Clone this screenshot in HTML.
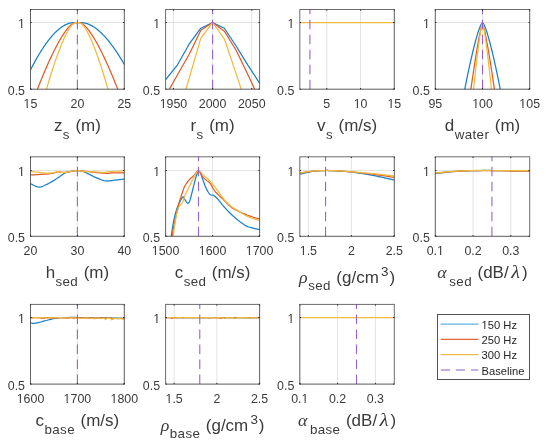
<!DOCTYPE html>
<html><head><meta charset="utf-8"><style>
html,body{margin:0;padding:0;background:#fff;width:550px;height:446px;overflow:hidden}
svg{display:block;will-change:transform}
text{font-family:"Liberation Sans",sans-serif;fill:#3a3a3a}
.t{font-size:12.4px}
.l{font-size:16.5px}
.s{font-size:13px;letter-spacing:0.35px}
.g{font-family:"Liberation Serif",serif;font-style:italic;font-size:17.5px}
.lam{font-size:19.5px}
.lg{font-size:11.8px;fill:#262626}
</style></head><body>
<svg width="550" height="446" viewBox="0 0 550 446"><rect width="550" height="446" fill="#fff"/><clipPath id="c00"><rect x="30.50" y="9.50" width="93.80" height="79.70"/></clipPath>
<path d="M30.50,9.50 V89.20 M77.40,9.50 V89.20 M124.30,9.50 V89.20 M30.50,89.20 H124.30 M30.50,22.50 H124.30" stroke="#e3e3e3" stroke-width="1" fill="none"/>
<path d="M30.50,69.86 L30.97,68.94 L31.44,68.03 L31.91,67.13 L32.38,66.23 L32.84,65.34 L33.31,64.46 L33.78,63.59 L34.25,62.73 L34.72,61.87 L35.19,61.02 L35.66,60.18 L36.13,59.35 L36.60,58.52 L37.07,57.71 L37.53,56.90 L38.00,56.09 L38.47,55.30 L38.94,54.52 L39.41,53.74 L39.88,52.97 L40.35,52.21 L40.82,51.45 L41.29,50.71 L41.76,49.97 L42.23,49.24 L42.69,48.52 L43.16,47.81 L43.63,47.11 L44.10,46.42 L44.57,45.73 L45.04,45.05 L45.51,44.38 L45.98,43.72 L46.45,43.07 L46.91,42.43 L47.38,41.80 L47.85,41.17 L48.32,40.55 L48.79,39.95 L49.26,39.35 L49.73,38.76 L50.20,38.18 L50.67,37.61 L51.14,37.05 L51.61,36.50 L52.07,35.96 L52.54,35.42 L53.01,34.90 L53.48,34.39 L53.95,33.88 L54.42,33.39 L54.89,32.90 L55.36,32.43 L55.83,31.97 L56.30,31.51 L56.76,31.07 L57.23,30.63 L57.70,30.21 L58.17,29.80 L58.64,29.39 L59.11,29.00 L59.58,28.62 L60.05,28.25 L60.52,27.89 L60.98,27.54 L61.45,27.21 L61.92,26.88 L62.39,26.57 L62.86,26.26 L63.33,25.97 L63.80,25.69 L64.27,25.42 L64.74,25.17 L65.21,24.92 L65.67,24.69 L66.14,24.47 L66.61,24.26 L67.08,24.06 L67.55,23.88 L68.02,23.71 L68.49,23.55 L68.96,23.40 L69.43,23.27 L69.90,23.15 L70.36,23.04 L70.83,22.94 L71.30,22.85 L71.77,22.78 L72.24,22.71 L72.71,22.66 L73.18,22.61 L73.65,22.58 L74.12,22.55 L74.59,22.53 L75.06,22.52 L75.52,22.51 L75.99,22.50 L76.46,22.50 L76.93,22.50 L77.40,22.50 L77.87,22.50 L78.34,22.50 L78.81,22.50 L79.28,22.51 L79.75,22.52 L80.21,22.53 L80.68,22.55 L81.15,22.57 L81.62,22.60 L82.09,22.64 L82.56,22.69 L83.03,22.75 L83.50,22.81 L83.97,22.89 L84.44,22.98 L84.90,23.07 L85.37,23.18 L85.84,23.30 L86.31,23.43 L86.78,23.57 L87.25,23.72 L87.72,23.88 L88.19,24.06 L88.66,24.24 L89.12,24.44 L89.59,24.64 L90.06,24.86 L90.53,25.09 L91.00,25.32 L91.47,25.57 L91.94,25.83 L92.41,26.10 L92.88,26.37 L93.35,26.66 L93.81,26.96 L94.28,27.27 L94.75,27.59 L95.22,27.91 L95.69,28.25 L96.16,28.60 L96.63,28.95 L97.10,29.32 L97.57,29.69 L98.04,30.08 L98.50,30.47 L98.97,30.87 L99.44,31.28 L99.91,31.70 L100.38,32.13 L100.85,32.57 L101.32,33.01 L101.79,33.47 L102.26,33.93 L102.73,34.40 L103.19,34.88 L103.66,35.37 L104.13,35.87 L104.60,36.37 L105.07,36.88 L105.54,37.40 L106.01,37.93 L106.48,38.47 L106.95,39.01 L107.42,39.57 L107.88,40.13 L108.35,40.70 L108.82,41.27 L109.29,41.86 L109.76,42.45 L110.23,43.05 L110.70,43.65 L111.17,44.27 L111.64,44.89 L112.11,45.52 L112.58,46.16 L113.04,46.80 L113.51,47.45 L113.98,48.11 L114.45,48.78 L114.92,49.45 L115.39,50.13 L115.86,50.82 L116.33,51.51 L116.80,52.21 L117.27,52.92 L117.73,53.64 L118.20,54.36 L118.67,55.09 L119.14,55.83 L119.61,56.57 L120.08,57.32 L120.55,58.08 L121.02,58.85 L121.49,59.62 L121.95,60.40 L122.42,61.18 L122.89,61.97 L123.36,62.77 L123.83,63.58 L124.30,64.39" stroke="#1a7fc6" stroke-width="1.25" fill="none" clip-path="url(#c00)" stroke-linejoin="round"/>
<path d="M30.50,107.71 L30.97,106.42 L31.44,105.13 L31.91,103.85 L32.38,102.58 L32.84,101.31 L33.31,100.05 L33.78,98.79 L34.25,97.54 L34.72,96.30 L35.19,95.06 L35.66,93.83 L36.13,92.60 L36.60,91.38 L37.07,90.17 L37.53,88.96 L38.00,87.76 L38.47,86.56 L38.94,85.37 L39.41,84.19 L39.88,83.01 L40.35,81.84 L40.82,80.68 L41.29,79.52 L41.76,78.37 L42.23,77.23 L42.69,76.09 L43.16,74.96 L43.63,73.84 L44.10,72.72 L44.57,71.61 L45.04,70.51 L45.51,69.42 L45.98,68.33 L46.45,67.25 L46.91,66.18 L47.38,65.12 L47.85,64.06 L48.32,63.01 L48.79,61.97 L49.26,60.93 L49.73,59.91 L50.20,58.89 L50.67,57.88 L51.14,56.88 L51.61,55.89 L52.07,54.91 L52.54,53.93 L53.01,52.97 L53.48,52.01 L53.95,51.06 L54.42,50.12 L54.89,49.20 L55.36,48.28 L55.83,47.37 L56.30,46.47 L56.76,45.58 L57.23,44.70 L57.70,43.83 L58.17,42.97 L58.64,42.13 L59.11,41.29 L59.58,40.47 L60.05,39.65 L60.52,38.85 L60.98,38.06 L61.45,37.29 L61.92,36.53 L62.39,35.78 L62.86,35.04 L63.33,34.32 L63.80,33.61 L64.27,32.91 L64.74,32.24 L65.21,31.57 L65.67,30.93 L66.14,30.30 L66.61,29.69 L67.08,29.09 L67.55,28.52 L68.02,27.96 L68.49,27.43 L68.96,26.91 L69.43,26.42 L69.90,25.95 L70.36,25.51 L70.83,25.09 L71.30,24.70 L71.77,24.34 L72.24,24.01 L72.71,23.71 L73.18,23.44 L73.65,23.21 L74.12,23.01 L74.59,22.84 L75.06,22.71 L75.52,22.62 L75.99,22.55 L76.46,22.52 L76.93,22.50 L77.40,22.50 L77.87,22.50 L78.34,22.52 L78.81,22.55 L79.28,22.62 L79.75,22.71 L80.21,22.84 L80.68,23.00 L81.15,23.20 L81.62,23.43 L82.09,23.69 L82.56,23.99 L83.03,24.31 L83.50,24.67 L83.97,25.06 L84.44,25.47 L84.90,25.90 L85.37,26.37 L85.84,26.85 L86.31,27.36 L86.78,27.88 L87.25,28.43 L87.72,29.00 L88.19,29.58 L88.66,30.19 L89.12,30.81 L89.59,31.44 L90.06,32.10 L90.53,32.77 L91.00,33.45 L91.47,34.15 L91.94,34.86 L92.41,35.59 L92.88,36.32 L93.35,37.08 L93.81,37.84 L94.28,38.62 L94.75,39.41 L95.22,40.21 L95.69,41.02 L96.16,41.85 L96.63,42.68 L97.10,43.53 L97.57,44.38 L98.04,45.25 L98.50,46.13 L98.97,47.01 L99.44,47.91 L99.91,48.81 L100.38,49.73 L100.85,50.65 L101.32,51.59 L101.79,52.53 L102.26,53.48 L102.73,54.44 L103.19,55.41 L103.66,56.39 L104.13,57.38 L104.60,58.37 L105.07,59.37 L105.54,60.39 L106.01,61.40 L106.48,62.43 L106.95,63.46 L107.42,64.51 L107.88,65.56 L108.35,66.61 L108.82,67.68 L109.29,68.75 L109.76,69.83 L110.23,70.91 L110.70,72.01 L111.17,73.11 L111.64,74.21 L112.11,75.33 L112.58,76.45 L113.04,77.57 L113.51,78.71 L113.98,79.85 L114.45,80.99 L114.92,82.15 L115.39,83.31 L115.86,84.47 L116.33,85.65 L116.80,86.82 L117.27,88.01 L117.73,89.20 L118.20,90.40 L118.67,91.60 L119.14,92.81 L119.61,94.02 L120.08,95.24 L120.55,96.47 L121.02,97.70 L121.49,98.94 L121.95,100.19 L122.42,101.43 L122.89,102.69 L123.36,103.95 L123.83,105.22 L124.30,106.49" stroke="#dc5d28" stroke-width="1.25" fill="none" clip-path="url(#c00)" stroke-linejoin="round"/>
<path d="M30.50,149.49 L30.97,147.57 L31.44,145.66 L31.91,143.75 L32.38,141.85 L32.84,139.96 L33.31,138.08 L33.78,136.21 L34.25,134.35 L34.72,132.49 L35.19,130.65 L35.66,128.81 L36.13,126.98 L36.60,125.16 L37.07,123.35 L37.53,121.55 L38.00,119.76 L38.47,117.98 L38.94,116.21 L39.41,114.44 L39.88,112.69 L40.35,110.95 L40.82,109.21 L41.29,107.49 L41.76,105.77 L42.23,104.07 L42.69,102.38 L43.16,100.69 L43.63,99.02 L44.10,97.35 L44.57,95.70 L45.04,94.06 L45.51,92.43 L45.98,90.81 L46.45,89.20 L46.91,87.60 L47.38,86.02 L47.85,84.44 L48.32,82.88 L48.79,81.32 L49.26,79.78 L49.73,78.26 L50.20,76.74 L50.67,75.24 L51.14,73.75 L51.61,72.27 L52.07,70.80 L52.54,69.35 L53.01,67.91 L53.48,66.48 L53.95,65.07 L54.42,63.67 L54.89,62.29 L55.36,60.92 L55.83,59.56 L56.30,58.22 L56.76,56.90 L57.23,55.59 L57.70,54.29 L58.17,53.01 L58.64,51.75 L59.11,50.51 L59.58,49.28 L60.05,48.07 L60.52,46.87 L60.98,45.70 L61.45,44.54 L61.92,43.40 L62.39,42.29 L62.86,41.19 L63.33,40.11 L63.80,39.06 L64.27,38.02 L64.74,37.01 L65.21,36.02 L65.67,35.06 L66.14,34.12 L66.61,33.21 L67.08,32.33 L67.55,31.47 L68.02,30.64 L68.49,29.84 L68.96,29.08 L69.43,28.35 L69.90,27.65 L70.36,26.99 L70.83,26.36 L71.30,25.78 L71.77,25.24 L72.24,24.75 L72.71,24.30 L73.18,23.90 L73.65,23.55 L74.12,23.25 L74.59,23.01 L75.06,22.82 L75.52,22.68 L75.99,22.58 L76.46,22.53 L76.93,22.50 L77.40,22.50 L77.87,22.50 L78.34,22.53 L78.81,22.58 L79.28,22.68 L79.75,22.82 L80.21,23.02 L80.68,23.27 L81.15,23.57 L81.62,23.93 L82.09,24.34 L82.56,24.79 L83.03,25.30 L83.50,25.85 L83.97,26.44 L84.44,27.07 L84.90,27.75 L85.37,28.46 L85.84,29.21 L86.31,29.99 L86.78,30.80 L87.25,31.64 L87.72,32.52 L88.19,33.42 L88.66,34.35 L89.12,35.31 L89.59,36.29 L90.06,37.30 L90.53,38.33 L91.00,39.38 L91.47,40.46 L91.94,41.55 L92.41,42.67 L92.88,43.81 L93.35,44.97 L93.81,46.15 L94.28,47.35 L94.75,48.57 L95.22,49.80 L95.69,51.05 L96.16,52.32 L96.63,53.61 L97.10,54.91 L97.57,56.23 L98.04,57.57 L98.50,58.92 L98.97,60.29 L99.44,61.67 L99.91,63.07 L100.38,64.48 L100.85,65.90 L101.32,67.34 L101.79,68.80 L102.26,70.26 L102.73,71.75 L103.19,73.24 L103.66,74.75 L104.13,76.27 L104.60,77.80 L105.07,79.35 L105.54,80.90 L106.01,82.47 L106.48,84.06 L106.95,85.65 L107.42,87.26 L107.88,88.88 L108.35,90.50 L108.82,92.14 L109.29,93.80 L109.76,95.46 L110.23,97.13 L110.70,98.82 L111.17,100.51 L111.64,102.22 L112.11,103.94 L112.58,105.66 L113.04,107.40 L113.51,109.15 L113.98,110.91 L114.45,112.68 L114.92,114.45 L115.39,116.24 L115.86,118.04 L116.33,119.85 L116.80,121.66 L117.27,123.49 L117.73,125.33 L118.20,127.17 L118.67,129.03 L119.14,130.89 L119.61,132.76 L120.08,134.64 L120.55,136.54 L121.02,138.44 L121.49,140.34 L121.95,142.26 L122.42,144.19 L122.89,146.12 L123.36,148.07 L123.83,150.02 L124.30,151.98" stroke="#eebb40" stroke-width="1.25" fill="none" clip-path="url(#c00)" stroke-linejoin="round"/>
<path d="M77.40,89.20 V9.50" stroke="#9464cc" stroke-width="1.1" stroke-dasharray="9.5 5.5" fill="none"/>
<path d="M30.50,89.20 v-1.2 M30.50,9.50 v1.2 M77.40,89.20 v-1.2 M77.40,9.50 v1.2 M124.30,89.20 v-1.2 M124.30,9.50 v1.2 M30.50,89.20 h1.2 M124.30,89.20 h-1.2 M30.50,22.50 h1.2 M124.30,22.50 h-1.2" stroke="#262626" stroke-width="1" fill="none"/>
<rect x="30.50" y="9.50" width="93.80" height="79.70" stroke="#262626" stroke-width="1" fill="none" opacity="0.68"/>
<text x="30.50" y="107.80" text-anchor="middle" class="t">15</text>
<text x="77.40" y="107.80" text-anchor="middle" class="t">20</text>
<text x="124.30" y="107.80" text-anchor="middle" class="t">25</text>
<text x="25.00" y="27.90" text-anchor="end" class="t">1</text>
<text x="25.00" y="94.60" text-anchor="end" class="t">0.5</text>
<g transform="translate(77.40,130.60) scale(1.030,1)"><text x="0" y="0" text-anchor="middle" class="l"><tspan>z</tspan><tspan class="s" dx="0.4" dy="8.3">s</tspan><tspan dy="-8.3"> </tspan><tspan dx="0.8">(m</tspan><tspan dx="0.0">)</tspan></text></g>
<clipPath id="c01"><rect x="165.60" y="9.50" width="94.00" height="79.70"/></clipPath>
<path d="M173.43,9.50 V89.20 M212.60,9.50 V89.20 M251.77,9.50 V89.20 M165.60,89.20 H259.60 M165.60,22.50 H259.60" stroke="#e3e3e3" stroke-width="1" fill="none"/>
<path d="M165.60,79.73 L177.35,65.05 L189.10,44.24 L200.85,28.24 L212.60,22.50 L224.35,28.24 L236.10,45.98 L247.85,65.05 L259.60,83.20" stroke="#1a7fc6" stroke-width="1.25" fill="none" clip-path="url(#c01)" stroke-linejoin="round"/>
<path d="M165.60,95.87 L177.35,75.06 L189.10,54.52 L200.85,30.24 L212.60,22.50 L224.35,31.17 L236.10,50.25 L247.85,74.53 L259.60,99.87" stroke="#dc5d28" stroke-width="1.25" fill="none" clip-path="url(#c01)" stroke-linejoin="round"/>
<path d="M177.35,115.88 L189.10,78.53 L200.85,38.11 L212.60,22.50 L224.35,39.04 L236.10,73.59 L247.85,109.21" stroke="#eebb40" stroke-width="1.25" fill="none" clip-path="url(#c01)" stroke-linejoin="round"/>
<path d="M212.60,89.20 V9.50" stroke="#9464cc" stroke-width="1.1" stroke-dasharray="9.5 5.5" fill="none"/>
<path d="M173.43,89.20 v-1.2 M173.43,9.50 v1.2 M212.60,89.20 v-1.2 M212.60,9.50 v1.2 M251.77,89.20 v-1.2 M251.77,9.50 v1.2 M165.60,89.20 h1.2 M259.60,89.20 h-1.2 M165.60,22.50 h1.2 M259.60,22.50 h-1.2" stroke="#262626" stroke-width="1" fill="none"/>
<rect x="165.60" y="9.50" width="94.00" height="79.70" stroke="#262626" stroke-width="1" fill="none" opacity="0.68"/>
<text x="173.43" y="107.80" text-anchor="middle" class="t">1950</text>
<text x="212.60" y="107.80" text-anchor="middle" class="t">2000</text>
<text x="251.77" y="107.80" text-anchor="middle" class="t">2050</text>
<text x="160.10" y="27.90" text-anchor="end" class="t">1</text>
<text x="160.10" y="94.60" text-anchor="end" class="t">0.5</text>
<g transform="translate(212.60,130.60) scale(1.030,1)"><text x="0" y="0" text-anchor="middle" class="l"><tspan>r</tspan><tspan class="s" dx="0.4" dy="8.3">s</tspan><tspan dy="-8.3"> </tspan><tspan dx="0.8">(m</tspan><tspan dx="0.0">)</tspan></text></g>
<clipPath id="c02"><rect x="299.80" y="9.50" width="94.50" height="79.70"/></clipPath>
<path d="M326.80,9.50 V89.20 M360.55,9.50 V89.20 M394.30,9.50 V89.20 M299.80,89.20 H394.30 M299.80,22.50 H394.30" stroke="#e3e3e3" stroke-width="1" fill="none"/>
<path d="M299.80,22.50 L394.30,22.50" stroke="#eebb40" stroke-width="1.25" fill="none" clip-path="url(#c02)" stroke-linejoin="round"/>
<path d="M309.93,89.20 V9.50" stroke="#9464cc" stroke-width="1.1" stroke-dasharray="9.5 5.5" fill="none"/>
<path d="M326.80,89.20 v-1.2 M326.80,9.50 v1.2 M360.55,89.20 v-1.2 M360.55,9.50 v1.2 M394.30,89.20 v-1.2 M394.30,9.50 v1.2 M299.80,89.20 h1.2 M394.30,89.20 h-1.2 M299.80,22.50 h1.2 M394.30,22.50 h-1.2" stroke="#262626" stroke-width="1" fill="none"/>
<rect x="299.80" y="9.50" width="94.50" height="79.70" stroke="#262626" stroke-width="1" fill="none" opacity="0.68"/>
<text x="326.80" y="107.80" text-anchor="middle" class="t">5</text>
<text x="360.55" y="107.80" text-anchor="middle" class="t">10</text>
<text x="394.30" y="107.80" text-anchor="middle" class="t">15</text>
<text x="294.30" y="27.90" text-anchor="end" class="t">1</text>
<text x="294.30" y="94.60" text-anchor="end" class="t">0.5</text>
<g transform="translate(347.05,130.60) scale(1.030,1)"><text x="0" y="0" text-anchor="middle" class="l"><tspan>v</tspan><tspan class="s" dx="0.4" dy="8.3">s</tspan><tspan dy="-8.3"> </tspan><tspan dx="0.8">(m/s</tspan><tspan dx="0.0">)</tspan></text></g>
<clipPath id="c03"><rect x="435.30" y="9.50" width="94.40" height="79.70"/></clipPath>
<path d="M435.30,9.50 V89.20 M482.50,9.50 V89.20 M529.70,9.50 V89.20 M435.30,89.20 H529.70 M435.30,22.50 H529.70" stroke="#e3e3e3" stroke-width="1" fill="none"/>
<path d="M435.30,270.09 L435.77,266.80 L436.24,263.51 L436.72,260.24 L437.19,256.98 L437.66,253.73 L438.13,250.49 L438.60,247.26 L439.08,244.04 L439.55,240.83 L440.02,237.64 L440.49,234.45 L440.96,231.28 L441.44,228.12 L441.91,224.97 L442.38,221.84 L442.85,218.71 L443.32,215.60 L443.80,212.50 L444.27,209.41 L444.74,206.33 L445.21,203.27 L445.68,200.22 L446.16,197.18 L446.63,194.16 L447.10,191.14 L447.57,188.14 L448.04,185.16 L448.52,182.18 L448.99,179.22 L449.46,176.28 L449.93,173.35 L450.40,170.43 L450.88,167.52 L451.35,164.63 L451.82,161.76 L452.29,158.89 L452.76,156.05 L453.24,153.21 L453.71,150.40 L454.18,147.59 L454.65,144.81 L455.12,142.03 L455.60,139.28 L456.07,136.54 L456.54,133.81 L457.01,131.10 L457.48,128.41 L457.96,125.74 L458.43,123.08 L458.90,120.44 L459.37,117.81 L459.84,115.20 L460.32,112.61 L460.79,110.04 L461.26,107.49 L461.73,104.96 L462.20,102.44 L462.68,99.95 L463.15,97.47 L463.62,95.01 L464.09,92.58 L464.56,90.16 L465.04,87.77 L465.51,85.39 L465.98,83.04 L466.45,80.71 L466.92,78.40 L467.40,76.12 L467.87,73.86 L468.34,71.62 L468.81,69.41 L469.28,67.23 L469.76,65.07 L470.23,62.94 L470.70,60.83 L471.17,58.75 L471.64,56.71 L472.12,54.69 L472.59,52.70 L473.06,50.75 L473.53,48.82 L474.00,46.94 L474.48,45.09 L474.95,43.27 L475.42,41.50 L475.89,39.76 L476.36,38.07 L476.84,36.43 L477.31,34.83 L477.78,33.29 L478.25,31.81 L478.72,30.38 L479.20,29.02 L479.67,27.74 L480.14,26.55 L480.61,25.46 L481.08,24.50 L481.56,23.71 L482.03,23.18 L482.50,23.03 L482.97,23.18 L483.44,23.71 L483.92,24.50 L484.39,25.46 L484.86,26.55 L485.33,27.74 L485.80,29.02 L486.28,30.38 L486.75,31.81 L487.22,33.29 L487.69,34.83 L488.16,36.43 L488.64,38.07 L489.11,39.76 L489.58,41.50 L490.05,43.27 L490.52,45.09 L491.00,46.94 L491.47,48.82 L491.94,50.75 L492.41,52.70 L492.88,54.69 L493.36,56.71 L493.83,58.75 L494.30,60.83 L494.77,62.94 L495.24,65.07 L495.72,67.23 L496.19,69.41 L496.66,71.62 L497.13,73.86 L497.60,76.12 L498.08,78.40 L498.55,80.71 L499.02,83.04 L499.49,85.39 L499.96,87.77 L500.44,90.16 L500.91,92.58 L501.38,95.01 L501.85,97.47 L502.32,99.95 L502.80,102.44 L503.27,104.96 L503.74,107.49 L504.21,110.04 L504.68,112.61 L505.16,115.20 L505.63,117.81 L506.10,120.44 L506.57,123.08 L507.04,125.74 L507.52,128.41 L507.99,131.10 L508.46,133.81 L508.93,136.54 L509.40,139.28 L509.88,142.03 L510.35,144.81 L510.82,147.59 L511.29,150.40 L511.76,153.21 L512.24,156.05 L512.71,158.89 L513.18,161.76 L513.65,164.63 L514.12,167.52 L514.60,170.43 L515.07,173.35 L515.54,176.28 L516.01,179.22 L516.48,182.18 L516.96,185.16 L517.43,188.14 L517.90,191.14 L518.37,194.16 L518.84,197.18 L519.32,200.22 L519.79,203.27 L520.26,206.33 L520.73,209.41 L521.20,212.50 L521.68,215.60 L522.15,218.71 L522.62,221.84 L523.09,224.97 L523.56,228.12 L524.04,231.28 L524.51,234.45 L524.98,237.64 L525.45,240.83 L525.92,244.04 L526.40,247.26 L526.87,250.49 L527.34,253.73 L527.81,256.98 L528.28,260.24 L528.76,263.51 L529.23,266.80 L529.70,270.09" stroke="#1a7fc6" stroke-width="1.25" fill="none" clip-path="url(#c03)" stroke-linejoin="round"/>
<path d="M435.30,397.82 L435.77,393.20 L436.24,388.59 L436.72,384.00 L437.19,379.41 L437.66,374.84 L438.13,370.27 L438.60,365.72 L439.08,361.18 L439.55,356.65 L440.02,352.13 L440.49,347.62 L440.96,343.13 L441.44,338.64 L441.91,334.17 L442.38,329.71 L442.85,325.26 L443.32,320.83 L443.80,316.41 L444.27,311.99 L444.74,307.60 L445.21,303.21 L445.68,298.84 L446.16,294.48 L446.63,290.13 L447.10,285.80 L447.57,281.48 L448.04,277.18 L448.52,272.88 L448.99,268.61 L449.46,264.34 L449.93,260.09 L450.40,255.85 L450.88,251.63 L451.35,247.43 L451.82,243.23 L452.29,239.06 L452.76,234.89 L453.24,230.75 L453.71,226.61 L454.18,222.50 L454.65,218.40 L455.12,214.32 L455.60,210.25 L456.07,206.20 L456.54,202.16 L457.01,198.15 L457.48,194.15 L457.96,190.16 L458.43,186.20 L458.90,182.25 L459.37,178.33 L459.84,174.42 L460.32,170.53 L460.79,166.65 L461.26,162.80 L461.73,158.97 L462.20,155.16 L462.68,151.37 L463.15,147.60 L463.62,143.85 L464.09,140.12 L464.56,136.42 L465.04,132.74 L465.51,129.08 L465.98,125.45 L466.45,121.83 L466.92,118.25 L467.40,114.69 L467.87,111.15 L468.34,107.65 L468.81,104.17 L469.28,100.72 L469.76,97.29 L470.23,93.90 L470.70,90.54 L471.17,87.21 L471.64,83.91 L472.12,80.64 L472.59,77.41 L473.06,74.22 L473.53,71.06 L474.00,67.95 L474.48,64.87 L474.95,61.84 L475.42,58.85 L475.89,55.91 L476.36,53.02 L476.84,50.19 L477.31,47.41 L477.78,44.69 L478.25,42.04 L478.72,39.47 L479.20,36.97 L479.67,34.56 L480.14,32.26 L480.61,30.08 L481.08,28.05 L481.56,26.23 L482.03,24.75 L482.50,24.10 L482.97,24.73 L483.44,26.17 L483.92,27.93 L484.39,29.90 L484.86,32.01 L485.33,34.25 L485.80,36.58 L486.28,39.01 L486.75,41.51 L487.22,44.08 L487.69,46.71 L488.16,49.41 L488.64,52.16 L489.11,54.96 L489.58,57.81 L490.05,60.71 L490.52,63.65 L491.00,66.64 L491.47,69.66 L491.94,72.72 L492.41,75.82 L492.88,78.95 L493.36,82.12 L493.83,85.32 L494.30,88.55 L494.77,91.81 L495.24,95.10 L495.72,98.42 L496.19,101.77 L496.66,105.15 L497.13,108.55 L497.60,111.98 L498.08,115.43 L498.55,118.91 L499.02,122.42 L499.49,125.94 L499.96,129.49 L500.44,133.06 L500.91,136.66 L501.38,140.27 L501.85,143.91 L502.32,147.56 L502.80,151.24 L503.27,154.94 L503.74,158.66 L504.21,162.39 L504.68,166.15 L505.16,169.92 L505.63,173.71 L506.10,177.52 L506.57,181.35 L507.04,185.20 L507.52,189.06 L507.99,192.94 L508.46,196.84 L508.93,200.75 L509.40,204.68 L509.88,208.63 L510.35,212.59 L510.82,216.57 L511.29,220.56 L511.76,224.57 L512.24,228.59 L512.71,232.63 L513.18,236.68 L513.65,240.75 L514.12,244.83 L514.60,248.93 L515.07,253.03 L515.54,257.16 L516.01,261.29 L516.48,265.45 L516.96,269.61 L517.43,273.79 L517.90,277.98 L518.37,282.18 L518.84,286.40 L519.32,290.63 L519.79,294.87 L520.26,299.12 L520.73,303.39 L521.20,307.67 L521.68,311.96 L522.15,316.26 L522.62,320.57 L523.09,324.90 L523.56,329.24 L524.04,333.59 L524.51,337.95 L524.98,342.32 L525.45,346.70 L525.92,351.10 L526.40,355.51 L526.87,359.92 L527.34,364.35 L527.81,368.79 L528.28,373.24 L528.76,377.70 L529.23,382.17 L529.70,386.65" stroke="#dc5d28" stroke-width="1.25" fill="none" clip-path="url(#c03)" stroke-linejoin="round"/>
<path d="M435.30,589.77 L435.77,582.49 L436.24,575.23 L436.72,568.00 L437.19,560.78 L437.66,553.59 L438.13,546.42 L438.60,539.27 L439.08,532.14 L439.55,525.03 L440.02,517.94 L440.49,510.88 L440.96,503.84 L441.44,496.82 L441.91,489.83 L442.38,482.85 L442.85,475.90 L443.32,468.98 L443.80,462.08 L444.27,455.20 L444.74,448.34 L445.21,441.51 L445.68,434.70 L446.16,427.92 L446.63,421.16 L447.10,414.43 L447.57,407.73 L448.04,401.04 L448.52,394.39 L448.99,387.76 L449.46,381.16 L449.93,374.58 L450.40,368.03 L450.88,361.51 L451.35,355.01 L451.82,348.54 L452.29,342.11 L452.76,335.69 L453.24,329.31 L453.71,322.96 L454.18,316.64 L454.65,310.34 L455.12,304.08 L455.60,297.84 L456.07,291.64 L456.54,285.47 L457.01,279.33 L457.48,273.22 L457.96,267.15 L458.43,261.11 L458.90,255.10 L459.37,249.12 L459.84,243.18 L460.32,237.28 L460.79,231.41 L461.26,225.58 L461.73,219.78 L462.20,214.02 L462.68,208.30 L463.15,202.62 L463.62,196.97 L464.09,191.37 L464.56,185.81 L465.04,180.29 L465.51,174.81 L465.98,169.37 L466.45,163.98 L466.92,158.63 L467.40,153.33 L467.87,148.08 L468.34,142.88 L468.81,137.72 L469.28,132.61 L469.76,127.56 L470.23,122.56 L470.70,117.62 L471.17,112.73 L471.64,107.90 L472.12,103.13 L472.59,98.42 L473.06,93.78 L473.53,89.20 L474.00,84.69 L474.48,80.26 L474.95,75.90 L475.42,71.62 L475.89,67.42 L476.36,63.31 L476.84,59.29 L477.31,55.37 L477.78,51.55 L478.25,47.85 L478.72,44.27 L479.20,40.83 L479.67,37.53 L480.14,34.41 L480.61,31.48 L481.08,28.80 L481.56,26.45 L482.03,24.59 L482.50,23.83 L482.97,24.60 L483.44,26.48 L483.92,28.87 L484.39,31.59 L484.86,34.56 L485.33,37.72 L485.80,41.06 L486.28,44.56 L486.75,48.19 L487.22,51.94 L487.69,55.81 L488.16,59.79 L488.64,63.86 L489.11,68.03 L489.58,72.29 L490.05,76.63 L490.52,81.05 L491.00,85.55 L491.47,90.12 L491.94,94.76 L492.41,99.47 L492.88,104.24 L493.36,109.08 L493.83,113.98 L494.30,118.94 L494.77,123.95 L495.24,129.02 L495.72,134.15 L496.19,139.32 L496.66,144.55 L497.13,149.83 L497.60,155.16 L498.08,160.53 L498.55,165.95 L499.02,171.42 L499.49,176.93 L499.96,182.49 L500.44,188.09 L500.91,193.73 L501.38,199.41 L501.85,205.13 L502.32,210.90 L502.80,216.70 L503.27,222.54 L503.74,228.42 L504.21,234.33 L504.68,240.28 L505.16,246.27 L505.63,252.30 L506.10,258.35 L506.57,264.45 L507.04,270.57 L507.52,276.73 L507.99,282.93 L508.46,289.15 L508.93,295.41 L509.40,301.70 L509.88,308.02 L510.35,314.37 L510.82,320.76 L511.29,327.17 L511.76,333.61 L512.24,340.08 L512.71,346.58 L513.18,353.11 L513.65,359.67 L514.12,366.26 L514.60,372.87 L515.07,379.52 L515.54,386.18 L516.01,392.88 L516.48,399.60 L516.96,406.35 L517.43,413.13 L517.90,419.93 L518.37,426.76 L518.84,433.61 L519.32,440.49 L519.79,447.39 L520.26,454.32 L520.73,461.27 L521.20,468.24 L521.68,475.24 L522.15,482.27 L522.62,489.31 L523.09,496.38 L523.56,503.48 L524.04,510.60 L524.51,517.73 L524.98,524.90 L525.45,532.08 L525.92,539.29 L526.40,546.52 L526.87,553.77 L527.34,561.04 L527.81,568.34 L528.28,575.65 L528.76,582.99 L529.23,590.35 L529.70,597.73" stroke="#eebb40" stroke-width="1.25" fill="none" clip-path="url(#c03)" stroke-linejoin="round"/>
<path d="M482.50,89.20 V9.50" stroke="#9464cc" stroke-width="1.1" stroke-dasharray="9.5 5.5" fill="none"/>
<path d="M435.30,89.20 v-1.2 M435.30,9.50 v1.2 M482.50,89.20 v-1.2 M482.50,9.50 v1.2 M529.70,89.20 v-1.2 M529.70,9.50 v1.2 M435.30,89.20 h1.2 M529.70,89.20 h-1.2 M435.30,22.50 h1.2 M529.70,22.50 h-1.2" stroke="#262626" stroke-width="1" fill="none"/>
<rect x="435.30" y="9.50" width="94.40" height="79.70" stroke="#262626" stroke-width="1" fill="none" opacity="0.68"/>
<text x="435.30" y="107.80" text-anchor="middle" class="t">95</text>
<text x="482.50" y="107.80" text-anchor="middle" class="t">100</text>
<text x="529.70" y="107.80" text-anchor="middle" class="t">105</text>
<text x="429.80" y="27.90" text-anchor="end" class="t">1</text>
<text x="429.80" y="94.60" text-anchor="end" class="t">0.5</text>
<g transform="translate(482.50,130.60) scale(1.030,1)"><text x="0" y="0" text-anchor="middle" class="l"><tspan>d</tspan><tspan class="s" dx="0.4" dy="8.3">water</tspan><tspan dy="-8.3"> </tspan><tspan dx="0.8">(m</tspan><tspan dx="0.0">)</tspan></text></g>
<clipPath id="c10"><rect x="30.50" y="156.80" width="93.80" height="79.50"/></clipPath>
<path d="M30.50,156.80 V236.30 M77.40,156.80 V236.30 M124.30,156.80 V236.30 M30.50,236.30 H124.30 M30.50,170.50 H124.30" stroke="#e3e3e3" stroke-width="1" fill="none"/>
<path d="M30.50,183.66 L31.15,183.97 L32.03,184.42 L33.07,184.96 L34.22,185.54 L35.44,186.10 L36.67,186.58 L37.85,186.93 L38.94,187.08 L39.96,187.05 L40.96,186.87 L41.95,186.59 L42.93,186.21 L43.91,185.77 L44.90,185.29 L45.90,184.80 L46.91,184.32 L47.94,183.83 L48.98,183.31 L50.03,182.75 L51.08,182.16 L52.14,181.55 L53.20,180.91 L54.28,180.26 L55.36,179.58 L56.48,178.85 L57.65,178.03 L58.85,177.16 L60.05,176.29 L61.21,175.44 L62.33,174.65 L63.35,173.96 L64.27,173.40 L65.03,172.98 L65.65,172.67 L66.17,172.45 L66.64,172.30 L67.11,172.19 L67.62,172.08 L68.22,171.97 L68.96,171.82 L69.84,171.62 L70.84,171.40 L71.92,171.18 L73.05,170.97 L74.19,170.78 L75.32,170.63 L76.40,170.53 L77.40,170.50 L78.31,170.53 L79.14,170.59 L79.93,170.69 L80.70,170.84 L81.48,171.03 L82.31,171.28 L83.20,171.58 L84.20,171.95 L85.31,172.40 L86.52,172.96 L87.79,173.58 L89.11,174.25 L90.44,174.94 L91.77,175.61 L93.06,176.25 L94.28,176.82 L95.48,177.34 L96.69,177.87 L97.90,178.38 L99.08,178.86 L100.21,179.32 L101.29,179.73 L102.29,180.08 L103.19,180.37 L103.95,180.59 L104.57,180.75 L105.08,180.85 L105.54,180.91 L106.00,180.94 L106.51,180.94 L107.13,180.92 L107.88,180.90 L108.81,180.85 L109.85,180.77 L110.98,180.66 L112.16,180.53 L113.37,180.38 L114.57,180.24 L115.72,180.10 L116.80,179.98 L117.85,179.85 L118.95,179.72 L120.04,179.59 L121.10,179.46 L122.10,179.33 L122.98,179.22 L123.73,179.13 L124.30,179.05" stroke="#1a7fc6" stroke-width="1.25" fill="none" clip-path="url(#c10)" stroke-linejoin="round"/>
<path d="M30.50,174.97 L31.21,174.94 L32.15,174.89 L33.27,174.83 L34.52,174.76 L35.85,174.69 L37.22,174.61 L38.58,174.53 L39.88,174.45 L41.18,174.37 L42.56,174.29 L43.97,174.22 L45.40,174.13 L46.81,174.04 L48.18,173.93 L49.48,173.81 L50.67,173.66 L51.78,173.47 L52.85,173.23 L53.88,172.97 L54.84,172.70 L55.74,172.44 L56.57,172.20 L57.32,172.00 L57.98,171.87 L58.52,171.80 L58.92,171.78 L59.23,171.79 L59.47,171.84 L59.69,171.90 L59.91,171.97 L60.17,172.03 L60.52,172.08 L60.91,172.13 L61.31,172.20 L61.73,172.27 L62.17,172.35 L62.64,172.41 L63.14,172.46 L63.68,172.49 L64.27,172.47 L64.91,172.42 L65.61,172.34 L66.34,172.23 L67.11,172.10 L67.91,171.97 L68.72,171.82 L69.54,171.68 L70.36,171.55 L71.20,171.42 L72.06,171.26 L72.93,171.09 L73.82,170.93 L74.72,170.78 L75.62,170.65 L76.51,170.55 L77.40,170.50 L78.26,170.50 L79.09,170.53 L79.91,170.60 L80.74,170.69 L81.59,170.80 L82.48,170.92 L83.42,171.04 L84.44,171.16 L85.54,171.28 L86.72,171.43 L87.96,171.58 L89.24,171.74 L90.54,171.90 L91.82,172.06 L93.08,172.21 L94.28,172.34 L95.47,172.46 L96.68,172.58 L97.88,172.69 L99.06,172.79 L100.20,172.89 L101.29,172.98 L102.29,173.06 L103.19,173.13 L103.99,173.20 L104.68,173.25 L105.28,173.30 L105.83,173.35 L106.35,173.38 L106.84,173.40 L107.35,173.40 L107.88,173.40 L108.38,173.36 L108.79,173.31 L109.15,173.23 L109.53,173.15 L109.96,173.06 L110.50,172.98 L111.20,172.91 L112.11,172.87 L113.33,172.84 L114.88,172.83 L116.63,172.83 L118.47,172.84 L120.27,172.85 L121.92,172.86 L123.30,172.87 L124.30,172.87" stroke="#dc5d28" stroke-width="1.25" fill="none" clip-path="url(#c10)" stroke-linejoin="round"/>
<path d="M30.50,171.55 L31.23,171.63 L32.20,171.72 L33.35,171.84 L34.63,171.97 L35.98,172.11 L37.35,172.24 L38.67,172.37 L39.88,172.47 L41.01,172.58 L42.13,172.70 L43.24,172.82 L44.35,172.94 L45.45,173.04 L46.55,173.11 L47.67,173.14 L48.79,173.13 L49.95,173.05 L51.14,172.90 L52.35,172.71 L53.55,172.49 L54.74,172.27 L55.88,172.08 L56.97,171.94 L57.98,171.87 L58.91,171.89 L59.76,171.99 L60.56,172.13 L61.32,172.31 L62.05,172.48 L62.78,172.62 L63.51,172.72 L64.27,172.74 L65.03,172.67 L65.78,172.55 L66.53,172.39 L67.27,172.19 L68.02,171.98 L68.78,171.77 L69.56,171.58 L70.36,171.42 L71.20,171.27 L72.06,171.12 L72.93,170.96 L73.82,170.81 L74.72,170.68 L75.62,170.58 L76.51,170.52 L77.40,170.50 L78.26,170.54 L79.09,170.64 L79.91,170.78 L80.74,170.95 L81.59,171.13 L82.48,171.30 L83.42,171.45 L84.44,171.55 L85.54,171.62 L86.72,171.67 L87.96,171.70 L89.24,171.72 L90.54,171.73 L91.82,171.75 L93.08,171.78 L94.28,171.82 L95.44,171.88 L96.58,171.96 L97.69,172.06 L98.80,172.15 L99.89,172.24 L100.99,172.31 L102.09,172.34 L103.19,172.34 L104.29,172.29 L105.35,172.20 L106.39,172.09 L107.45,171.95 L108.52,171.80 L109.65,171.66 L110.84,171.53 L112.11,171.42 L113.56,171.33 L115.21,171.25 L116.97,171.17 L118.76,171.10 L120.48,171.04 L122.03,170.98 L123.34,170.93 L124.30,170.89" stroke="#eebb40" stroke-width="1.25" fill="none" clip-path="url(#c10)" stroke-linejoin="round"/>
<path d="M77.40,236.30 V156.80" stroke="#9464cc" stroke-width="1.1" stroke-dasharray="9.5 5.5" fill="none"/>
<path d="M30.50,236.30 v-1.2 M30.50,156.80 v1.2 M77.40,236.30 v-1.2 M77.40,156.80 v1.2 M124.30,236.30 v-1.2 M124.30,156.80 v1.2 M30.50,236.30 h1.2 M124.30,236.30 h-1.2 M30.50,170.50 h1.2 M124.30,170.50 h-1.2" stroke="#262626" stroke-width="1" fill="none"/>
<rect x="30.50" y="156.80" width="93.80" height="79.50" stroke="#262626" stroke-width="1" fill="none" opacity="0.68"/>
<text x="30.50" y="254.90" text-anchor="middle" class="t">20</text>
<text x="77.40" y="254.90" text-anchor="middle" class="t">30</text>
<text x="124.30" y="254.90" text-anchor="middle" class="t">40</text>
<text x="25.00" y="175.90" text-anchor="end" class="t">1</text>
<text x="25.00" y="241.70" text-anchor="end" class="t">0.5</text>
<g transform="translate(77.40,277.70) scale(1.030,1)"><text x="0" y="0" text-anchor="middle" class="l"><tspan>h</tspan><tspan class="s" dx="0.4" dy="8.3">sed</tspan><tspan dy="-8.3"> </tspan><tspan dx="0.8">(m</tspan><tspan dx="0.0">)</tspan></text></g>
<clipPath id="c11"><rect x="165.60" y="156.80" width="94.00" height="79.50"/></clipPath>
<path d="M165.60,156.80 V236.30 M212.60,156.80 V236.30 M259.60,156.80 V236.30 M165.60,236.30 H259.60 M165.60,170.50 H259.60" stroke="#e3e3e3" stroke-width="1" fill="none"/>
<path d="M167.95,262.62 L168.21,260.53 L168.55,257.67 L168.97,254.27 L169.42,250.52 L169.90,246.64 L170.38,242.84 L170.83,239.32 L171.24,236.30 L171.61,233.70 L171.95,231.29 L172.28,229.05 L172.61,226.95 L172.94,224.95 L173.28,223.03 L173.63,221.17 L174.01,219.32 L174.41,217.53 L174.82,215.82 L175.23,214.18 L175.66,212.61 L176.11,211.10 L176.58,209.64 L177.07,208.22 L177.59,206.82 L178.16,205.41 L178.79,203.95 L179.47,202.52 L180.16,201.14 L180.83,199.87 L181.47,198.76 L182.04,197.86 L182.52,197.21 L182.89,196.86 L183.18,196.76 L183.40,196.87 L183.58,197.13 L183.75,197.51 L183.92,197.94 L184.13,198.39 L184.40,198.79 L184.73,199.25 L185.09,199.83 L185.48,200.49 L185.89,201.17 L186.30,201.83 L186.69,202.41 L187.07,202.86 L187.41,203.14 L187.71,203.26 L188.00,203.28 L188.26,203.22 L188.51,203.05 L188.76,202.80 L189.01,202.44 L189.26,201.98 L189.52,201.43 L189.80,200.73 L190.08,199.88 L190.36,198.92 L190.65,197.86 L190.93,196.75 L191.22,195.62 L191.50,194.49 L191.78,193.40 L192.06,192.32 L192.33,191.21 L192.61,190.08 L192.88,188.93 L193.16,187.79 L193.43,186.65 L193.71,185.54 L193.99,184.45 L194.27,183.38 L194.55,182.30 L194.83,181.23 L195.11,180.17 L195.40,179.14 L195.68,178.15 L195.96,177.19 L196.24,176.29 L196.53,175.39 L196.81,174.47 L197.09,173.55 L197.37,172.69 L197.66,171.91 L197.94,171.26 L198.22,170.78 L198.50,170.50 L198.78,170.45 L199.06,170.59 L199.33,170.90 L199.61,171.33 L199.88,171.86 L200.16,172.45 L200.43,173.06 L200.71,173.66 L200.98,174.29 L201.26,174.99 L201.53,175.75 L201.81,176.55 L202.08,177.38 L202.36,178.22 L202.64,179.04 L202.92,179.84 L203.20,180.64 L203.49,181.46 L203.78,182.28 L204.07,183.11 L204.36,183.92 L204.65,184.71 L204.94,185.46 L205.22,186.16 L205.50,186.81 L205.77,187.42 L206.04,188.00 L206.31,188.55 L206.58,189.09 L206.85,189.61 L207.14,190.12 L207.43,190.63 L207.73,191.16 L208.02,191.70 L208.32,192.23 L208.63,192.75 L208.94,193.24 L209.28,193.70 L209.63,194.10 L210.02,194.45 L210.43,194.71 L210.87,194.89 L211.34,195.00 L211.82,195.08 L212.32,195.16 L212.81,195.26 L213.30,195.41 L213.78,195.64 L214.23,195.91 L214.67,196.21 L215.11,196.54 L215.55,196.89 L215.99,197.29 L216.46,197.74 L216.96,198.23 L217.49,198.79 L218.05,199.43 L218.64,200.14 L219.26,200.91 L219.89,201.72 L220.55,202.56 L221.22,203.42 L221.91,204.27 L222.61,205.11 L223.34,205.95 L224.09,206.81 L224.87,207.68 L225.67,208.57 L226.47,209.44 L227.27,210.30 L228.07,211.15 L228.86,211.95 L229.64,212.73 L230.42,213.49 L231.21,214.24 L231.99,214.96 L232.77,215.68 L233.55,216.38 L234.33,217.07 L235.11,217.74 L235.89,218.42 L236.67,219.08 L237.46,219.73 L238.24,220.37 L239.02,220.99 L239.80,221.60 L240.58,222.18 L241.36,222.75 L242.11,223.28 L242.80,223.80 L243.47,224.29 L244.16,224.77 L244.89,225.23 L245.69,225.68 L246.60,226.12 L247.66,226.56 L248.97,227.01 L250.53,227.47 L252.25,227.93 L254.02,228.38 L255.75,228.80 L257.32,229.17 L258.64,229.48 L259.60,229.72" stroke="#1a7fc6" stroke-width="1.25" fill="none" clip-path="url(#c11)" stroke-linejoin="round"/>
<path d="M169.36,262.62 L169.58,260.52 L169.87,257.64 L170.21,254.22 L170.59,250.45 L171.00,246.56 L171.41,242.76 L171.81,239.27 L172.18,236.30 L172.53,233.82 L172.87,231.60 L173.21,229.59 L173.55,227.72 L173.89,225.94 L174.25,224.18 L174.62,222.39 L175.00,220.51 L175.40,218.56 L175.80,216.60 L176.21,214.65 L176.64,212.71 L177.08,210.78 L177.53,208.87 L177.99,206.98 L178.48,205.11 L179.00,203.22 L179.57,201.26 L180.17,199.30 L180.77,197.36 L181.37,195.51 L181.93,193.78 L182.45,192.23 L182.90,190.90 L183.25,189.83 L183.53,189.00 L183.75,188.36 L183.95,187.84 L184.14,187.38 L184.37,186.92 L184.65,186.40 L185.01,185.77 L185.46,185.02 L185.97,184.21 L186.53,183.38 L187.12,182.53 L187.73,181.70 L188.34,180.89 L188.94,180.13 L189.52,179.45 L190.08,178.85 L190.64,178.32 L191.20,177.84 L191.76,177.39 L192.31,176.95 L192.87,176.51 L193.43,176.03 L193.99,175.50 L194.55,174.85 L195.12,174.06 L195.69,173.21 L196.26,172.36 L196.83,171.59 L197.39,170.98 L197.95,170.59 L198.50,170.50 L199.05,170.77 L199.59,171.35 L200.13,172.16 L200.66,173.12 L201.19,174.15 L201.71,175.17 L202.23,176.08 L202.73,176.82 L203.22,177.40 L203.71,177.92 L204.18,178.39 L204.65,178.82 L205.12,179.22 L205.58,179.60 L206.03,179.98 L206.49,180.37 L206.93,180.72 L207.35,180.99 L207.77,181.23 L208.18,181.46 L208.60,181.74 L209.04,182.08 L209.51,182.54 L210.02,183.13 L210.55,183.90 L211.10,184.81 L211.66,185.83 L212.25,186.92 L212.87,188.04 L213.53,189.17 L214.24,190.27 L215.00,191.29 L215.83,192.27 L216.75,193.24 L217.72,194.21 L218.72,195.16 L219.74,196.10 L220.74,197.02 L221.71,197.92 L222.61,198.79 L223.46,199.65 L224.27,200.50 L225.05,201.33 L225.82,202.14 L226.58,202.93 L227.33,203.69 L228.09,204.42 L228.86,205.11 L229.60,205.75 L230.28,206.33 L230.93,206.87 L231.59,207.39 L232.31,207.90 L233.11,208.43 L234.03,208.98 L235.11,209.59 L236.38,210.25 L237.82,210.96 L239.38,211.70 L241.03,212.46 L242.72,213.20 L244.42,213.93 L246.08,214.62 L247.66,215.24 L249.27,215.84 L250.97,216.42 L252.71,216.98 L254.42,217.51 L256.02,217.99 L257.47,218.42 L258.68,218.78 L259.60,219.06" stroke="#dc5d28" stroke-width="1.25" fill="none" clip-path="url(#c11)" stroke-linejoin="round"/>
<path d="M170.30,262.62 L170.51,260.59 L170.77,257.88 L171.08,254.65 L171.43,251.07 L171.82,247.29 L172.23,243.46 L172.67,239.74 L173.12,236.30 L173.59,232.93 L174.10,229.42 L174.64,225.84 L175.20,222.31 L175.78,218.91 L176.37,215.75 L176.98,212.91 L177.59,210.51 L178.23,208.58 L178.93,207.05 L179.66,205.85 L180.39,204.89 L181.10,204.08 L181.77,203.33 L182.38,202.56 L182.90,201.69 L183.30,200.79 L183.59,199.97 L183.82,199.21 L184.00,198.48 L184.18,197.75 L184.39,196.98 L184.65,196.16 L185.01,195.24 L185.46,194.23 L185.97,193.15 L186.53,192.02 L187.12,190.86 L187.73,189.67 L188.34,188.48 L188.94,187.31 L189.52,186.16 L190.08,185.02 L190.64,183.86 L191.20,182.70 L191.76,181.54 L192.31,180.40 L192.87,179.29 L193.43,178.22 L193.99,177.21 L194.55,176.19 L195.11,175.11 L195.67,174.03 L196.23,173.01 L196.79,172.09 L197.36,171.33 L197.93,170.78 L198.50,170.50 L199.08,170.54 L199.67,170.89 L200.27,171.46 L200.87,172.18 L201.46,172.98 L202.05,173.78 L202.63,174.52 L203.20,175.11 L203.76,175.58 L204.33,176.03 L204.89,176.45 L205.45,176.86 L205.98,177.25 L206.50,177.63 L206.98,178.01 L207.43,178.40 L207.80,178.74 L208.08,179.01 L208.31,179.25 L208.52,179.50 L208.76,179.79 L209.06,180.16 L209.47,180.65 L210.02,181.29 L210.73,182.12 L211.59,183.11 L212.56,184.22 L213.59,185.41 L214.64,186.64 L215.67,187.86 L216.63,189.03 L217.49,190.11 L218.23,191.11 L218.91,192.09 L219.53,193.05 L220.13,193.98 L220.71,194.90 L221.31,195.81 L221.93,196.71 L222.61,197.61 L223.34,198.51 L224.09,199.42 L224.87,200.33 L225.67,201.22 L226.47,202.09 L227.27,202.92 L228.07,203.72 L228.86,204.45 L229.60,205.10 L230.28,205.67 L230.93,206.17 L231.59,206.65 L232.31,207.13 L233.11,207.65 L234.03,208.24 L235.11,208.93 L236.38,209.74 L237.82,210.67 L239.38,211.67 L241.03,212.70 L242.72,213.73 L244.42,214.72 L246.08,215.63 L247.66,216.43 L249.27,217.13 L250.97,217.78 L252.71,218.39 L254.42,218.94 L256.02,219.43 L257.47,219.86 L258.68,220.22 L259.60,220.51" stroke="#eebb40" stroke-width="1.25" fill="none" clip-path="url(#c11)" stroke-linejoin="round"/>
<path d="M198.50,236.30 V156.80" stroke="#9464cc" stroke-width="1.1" stroke-dasharray="9.5 5.5" fill="none"/>
<path d="M165.60,236.30 v-1.2 M165.60,156.80 v1.2 M212.60,236.30 v-1.2 M212.60,156.80 v1.2 M259.60,236.30 v-1.2 M259.60,156.80 v1.2 M165.60,236.30 h1.2 M259.60,236.30 h-1.2 M165.60,170.50 h1.2 M259.60,170.50 h-1.2" stroke="#262626" stroke-width="1" fill="none"/>
<rect x="165.60" y="156.80" width="94.00" height="79.50" stroke="#262626" stroke-width="1" fill="none" opacity="0.68"/>
<text x="165.60" y="254.90" text-anchor="middle" class="t">1500</text>
<text x="212.60" y="254.90" text-anchor="middle" class="t">1600</text>
<text x="259.60" y="254.90" text-anchor="middle" class="t">1700</text>
<text x="160.10" y="175.90" text-anchor="end" class="t">1</text>
<text x="160.10" y="241.70" text-anchor="end" class="t">0.5</text>
<g transform="translate(212.60,277.70) scale(1.030,1)"><text x="0" y="0" text-anchor="middle" class="l"><tspan>c</tspan><tspan class="s" dx="0.4" dy="8.3">sed</tspan><tspan dy="-8.3"> </tspan><tspan dx="0.8">(m/s</tspan><tspan dx="0.0">)</tspan></text></g>
<clipPath id="c12"><rect x="299.80" y="156.80" width="94.50" height="79.50"/></clipPath>
<path d="M308.39,156.80 V236.30 M351.35,156.80 V236.30 M394.30,156.80 V236.30 M299.80,236.30 H394.30 M299.80,170.50 H394.30" stroke="#e3e3e3" stroke-width="1" fill="none"/>
<path d="M299.80,174.05 L300.79,173.84 L302.12,173.54 L303.69,173.18 L305.44,172.79 L307.29,172.40 L309.16,172.02 L310.99,171.69 L312.69,171.42 L314.30,171.21 L315.91,171.04 L317.52,170.89 L319.13,170.76 L320.74,170.66 L322.35,170.59 L323.96,170.53 L325.57,170.50 L327.18,170.49 L328.79,170.52 L330.41,170.57 L332.02,170.64 L333.63,170.73 L335.24,170.82 L336.85,170.93 L338.46,171.03 L340.01,171.12 L341.48,171.20 L342.91,171.28 L344.37,171.38 L345.88,171.50 L347.52,171.65 L349.32,171.84 L351.35,172.08 L353.62,172.37 L356.11,172.71 L358.77,173.09 L361.55,173.50 L364.39,173.94 L367.25,174.40 L370.08,174.88 L372.82,175.37 L375.65,175.91 L378.70,176.54 L381.82,177.20 L384.90,177.88 L387.82,178.53 L390.44,179.12 L392.64,179.61 L394.30,179.98" stroke="#1a7fc6" stroke-width="1.25" fill="none" clip-path="url(#c12)" stroke-linejoin="round"/>
<path d="M299.80,173.13 L300.79,172.97 L302.12,172.75 L303.69,172.48 L305.44,172.19 L307.29,171.89 L309.16,171.61 L310.99,171.36 L312.69,171.16 L314.30,171.01 L315.91,170.88 L317.52,170.77 L319.13,170.68 L320.74,170.61 L322.35,170.56 L323.96,170.52 L325.57,170.50 L327.18,170.49 L328.79,170.51 L330.41,170.54 L332.02,170.59 L333.63,170.65 L335.24,170.73 L336.85,170.81 L338.46,170.89 L340.01,170.99 L341.48,171.08 L342.91,171.19 L344.37,171.31 L345.88,171.44 L347.52,171.59 L349.32,171.75 L351.35,171.95 L353.62,172.16 L356.11,172.40 L358.77,172.65 L361.55,172.93 L364.39,173.22 L367.25,173.52 L370.08,173.85 L372.82,174.18 L375.65,174.57 L378.70,175.01 L381.82,175.49 L384.90,175.97 L387.82,176.44 L390.44,176.86 L392.64,177.21 L394.30,177.47" stroke="#dc5d28" stroke-width="1.25" fill="none" clip-path="url(#c12)" stroke-linejoin="round"/>
<path d="M299.80,172.87 L300.79,172.72 L302.12,172.51 L303.69,172.26 L305.44,171.98 L307.29,171.70 L309.16,171.44 L310.99,171.21 L312.69,171.03 L314.30,170.89 L315.91,170.78 L317.52,170.70 L319.13,170.63 L320.74,170.58 L322.35,170.55 L323.96,170.52 L325.57,170.50 L327.18,170.49 L328.79,170.49 L330.41,170.51 L332.02,170.53 L333.63,170.57 L335.24,170.62 L336.85,170.69 L338.46,170.76 L340.01,170.85 L341.48,170.96 L342.91,171.07 L344.37,171.20 L345.88,171.34 L347.52,171.49 L349.32,171.65 L351.35,171.82 L353.62,171.99 L356.11,172.18 L358.77,172.37 L361.55,172.58 L364.39,172.80 L367.25,173.03 L370.08,173.27 L372.82,173.53 L375.65,173.82 L378.70,174.15 L381.82,174.52 L384.90,174.88 L387.82,175.24 L390.44,175.56 L392.64,175.83 L394.30,176.03" stroke="#eebb40" stroke-width="1.25" fill="none" clip-path="url(#c12)" stroke-linejoin="round"/>
<path d="M325.57,236.30 V156.80" stroke="#9464cc" stroke-width="1.1" stroke-dasharray="9.5 5.5" fill="none"/>
<path d="M308.39,236.30 v-1.2 M308.39,156.80 v1.2 M351.35,236.30 v-1.2 M351.35,156.80 v1.2 M394.30,236.30 v-1.2 M394.30,156.80 v1.2 M299.80,236.30 h1.2 M394.30,236.30 h-1.2 M299.80,170.50 h1.2 M394.30,170.50 h-1.2" stroke="#262626" stroke-width="1" fill="none"/>
<rect x="299.80" y="156.80" width="94.50" height="79.50" stroke="#262626" stroke-width="1" fill="none" opacity="0.68"/>
<text x="308.39" y="254.90" text-anchor="middle" class="t">1.5</text>
<text x="351.35" y="254.90" text-anchor="middle" class="t">2</text>
<text x="394.30" y="254.90" text-anchor="middle" class="t">2.5</text>
<text x="294.30" y="175.90" text-anchor="end" class="t">1</text>
<text x="294.30" y="241.70" text-anchor="end" class="t">0.5</text>
<g transform="translate(347.05,283.00) scale(1.030,1)"><text x="0" y="0" text-anchor="middle" class="l"><tspan class="g">&#961;</tspan><tspan class="s" dx="0.4" dy="7.3">sed</tspan><tspan dy="-7.3"> </tspan><tspan dx="0.8">(g/cm</tspan><tspan class="s" dx="2.2" dy="-7">3</tspan><tspan dy="7" dx="0.5">)</tspan></text></g>
<clipPath id="c13"><rect x="435.30" y="156.80" width="94.40" height="79.50"/></clipPath>
<path d="M435.30,156.80 V236.30 M473.06,156.80 V236.30 M510.82,156.80 V236.30 M435.30,236.30 H529.70 M435.30,170.50 H529.70" stroke="#e3e3e3" stroke-width="1" fill="none"/>
<path d="M435.30,173.40 L436.76,173.25 L438.69,173.04 L441.00,172.80 L443.56,172.53 L446.27,172.26 L449.02,171.99 L451.69,171.75 L454.18,171.55 L456.54,171.39 L458.90,171.24 L461.26,171.11 L463.62,170.99 L465.98,170.88 L468.34,170.78 L470.70,170.70 L473.06,170.63 L475.42,170.57 L477.78,170.53 L480.14,170.51 L482.50,170.49 L484.86,170.49 L487.22,170.49 L489.58,170.49 L491.94,170.50 L494.30,170.52 L496.66,170.55 L499.02,170.59 L501.38,170.63 L503.74,170.68 L506.10,170.72 L508.46,170.75 L510.82,170.76 L513.31,170.76 L515.98,170.75 L518.73,170.74 L521.44,170.71 L524.00,170.69 L526.31,170.66 L528.24,170.64 L529.70,170.63" stroke="#1a7fc6" stroke-width="1.25" fill="none" clip-path="url(#c13)" stroke-linejoin="round"/>
<path d="M435.30,173.13 L436.76,172.99 L438.69,172.80 L441.00,172.58 L443.56,172.33 L446.27,172.07 L449.02,171.82 L451.69,171.60 L454.18,171.42 L456.54,171.27 L458.90,171.14 L461.26,171.03 L463.62,170.93 L465.98,170.84 L468.34,170.76 L470.70,170.69 L473.06,170.63 L475.50,170.58 L478.05,170.55 L480.64,170.52 L483.21,170.51 L485.69,170.50 L488.02,170.50 L490.12,170.50 L491.94,170.50 L493.40,170.50 L494.54,170.51 L495.44,170.52 L496.19,170.53 L496.88,170.55 L497.60,170.57 L498.44,170.60 L499.49,170.63 L500.68,170.67 L501.88,170.72 L503.13,170.78 L504.45,170.84 L505.85,170.90 L507.37,170.95 L509.02,170.99 L510.82,171.03 L512.95,171.05 L515.45,171.05 L518.18,171.06 L520.97,171.05 L523.67,171.04 L526.13,171.04 L528.19,171.03 L529.70,171.03" stroke="#dc5d28" stroke-width="1.25" fill="none" clip-path="url(#c13)" stroke-linejoin="round"/>
<path d="M435.30,173.00 L436.76,172.86 L438.69,172.67 L441.00,172.44 L443.56,172.19 L446.27,171.94 L449.02,171.69 L451.69,171.47 L454.18,171.29 L456.54,171.14 L458.90,171.01 L461.26,170.89 L463.62,170.79 L465.98,170.70 L468.34,170.62 L470.70,170.55 L473.06,170.50 L475.42,170.46 L477.78,170.44 L480.14,170.44 L482.50,170.44 L484.86,170.46 L487.22,170.47 L489.58,170.49 L491.94,170.50 L494.30,170.51 L496.66,170.53 L499.02,170.55 L501.38,170.57 L503.74,170.59 L506.10,170.60 L508.46,170.62 L510.82,170.63 L513.31,170.64 L515.98,170.64 L518.73,170.64 L521.44,170.64 L524.00,170.64 L526.31,170.63 L528.24,170.63 L529.70,170.63" stroke="#eebb40" stroke-width="1.25" fill="none" clip-path="url(#c13)" stroke-linejoin="round"/>
<path d="M491.94,236.30 V156.80" stroke="#9464cc" stroke-width="1.1" stroke-dasharray="9.5 5.5" fill="none"/>
<path d="M435.30,236.30 v-1.2 M435.30,156.80 v1.2 M473.06,236.30 v-1.2 M473.06,156.80 v1.2 M510.82,236.30 v-1.2 M510.82,156.80 v1.2 M435.30,236.30 h1.2 M529.70,236.30 h-1.2 M435.30,170.50 h1.2 M529.70,170.50 h-1.2" stroke="#262626" stroke-width="1" fill="none"/>
<rect x="435.30" y="156.80" width="94.40" height="79.50" stroke="#262626" stroke-width="1" fill="none" opacity="0.68"/>
<text x="435.30" y="254.90" text-anchor="middle" class="t">0.1</text>
<text x="473.06" y="254.90" text-anchor="middle" class="t">0.2</text>
<text x="510.82" y="254.90" text-anchor="middle" class="t">0.3</text>
<text x="429.80" y="175.90" text-anchor="end" class="t">1</text>
<text x="429.80" y="241.70" text-anchor="end" class="t">0.5</text>
<g transform="translate(482.50,277.70) scale(1.030,1)"><text x="0" y="0" text-anchor="middle" class="l"><tspan class="g">&#945;</tspan><tspan class="s" dx="2.4" dy="8.3">sed</tspan><tspan dy="-8.3"> </tspan><tspan dx="0.8">(dB/<tspan class="g lam" dx="2.5">&#955;</tspan></tspan><tspan dx="2.0">)</tspan></text></g>
<clipPath id="c20"><rect x="30.50" y="304.40" width="93.80" height="79.70"/></clipPath>
<path d="M30.50,304.40 V384.10 M77.40,304.40 V384.10 M124.30,304.40 V384.10 M30.50,384.10 H124.30 M30.50,317.50 H124.30" stroke="#e3e3e3" stroke-width="1" fill="none"/>
<path d="M30.50,322.56 L30.66,322.63 L30.87,322.74 L31.10,322.86 L31.38,322.99 L31.69,323.12 L32.04,323.24 L32.42,323.32 L32.84,323.36 L33.30,323.37 L33.80,323.35 L34.33,323.32 L34.90,323.26 L35.50,323.18 L36.14,323.09 L36.82,322.97 L37.53,322.83 L38.30,322.66 L39.13,322.46 L40.00,322.23 L40.91,321.98 L41.83,321.72 L42.76,321.46 L43.67,321.21 L44.57,320.96 L45.45,320.73 L46.33,320.48 L47.21,320.24 L48.09,320.00 L48.97,319.76 L49.85,319.53 L50.73,319.31 L51.61,319.10 L52.47,318.90 L53.31,318.70 L54.14,318.51 L54.98,318.33 L55.83,318.16 L56.72,318.01 L57.65,317.88 L58.64,317.77 L59.70,317.68 L60.82,317.62 L61.99,317.58 L63.18,317.55 L64.40,317.53 L65.62,317.52 L66.83,317.51 L68.02,317.50 L69.10,317.48 L70.04,317.47 L70.92,317.46 L71.83,317.46 L72.85,317.46 L74.07,317.47 L75.55,317.48 L77.40,317.50 L79.66,317.53 L82.27,317.57 L85.16,317.61 L88.25,317.67 L91.44,317.72 L94.66,317.78 L97.82,317.84 L100.85,317.90 L103.94,317.96 L107.26,318.04 L110.67,318.11 L114.04,318.19 L117.22,318.27 L120.09,318.33 L122.49,318.39 L124.30,318.43" stroke="#1a7fc6" stroke-width="1.25" fill="none" clip-path="url(#c20)" stroke-linejoin="round"/>
<path d="M30.50,317.95 L32.06,318.13 L33.63,317.50 L35.19,317.50 L36.75,317.65 L38.32,317.51 L39.88,317.52 L41.44,318.40 L43.01,317.97 L44.57,318.42 L46.13,317.53 L47.70,317.53 L49.26,317.54 L50.82,318.47 L52.39,317.55 L53.95,317.72 L55.51,317.78 L57.08,317.57 L58.64,318.25 L60.20,317.59 L61.77,317.60 L63.33,317.99 L64.89,317.85 L66.46,317.64 L68.02,318.42 L69.58,317.66 L71.15,317.68 L72.71,317.92 L74.27,318.50 L75.84,317.72 L77.40,317.73 L78.96,317.75 L80.53,317.77 L82.09,318.05 L83.65,317.80 L85.22,317.82 L86.78,317.87 L88.34,317.85 L89.91,318.32 L91.47,317.89 L93.03,317.91 L94.60,318.72 L96.16,317.96 L97.72,317.98 L99.29,318.00 L100.85,318.02 L102.41,318.05 L103.98,318.07 L105.54,318.10 L107.10,318.12 L108.67,318.38 L110.23,318.17 L111.79,318.20 L113.36,318.96 L114.92,318.26 L116.48,318.28 L118.05,318.63 L119.61,318.42 L121.17,318.40 L122.74,318.68 L124.30,318.43" stroke="#dc5d28" stroke-width="1.25" fill="none" clip-path="url(#c20)" stroke-linejoin="round"/>
<path d="M30.50,317.63 L32.06,318.27 L33.63,317.63 L35.19,317.64 L36.75,317.64 L38.32,317.85 L39.88,317.64 L41.44,317.65 L43.01,317.65 L44.57,317.65 L46.13,317.83 L47.70,318.01 L49.26,317.67 L50.82,317.68 L52.39,318.24 L53.95,317.69 L55.51,317.70 L57.08,317.71 L58.64,317.72 L60.20,317.73 L61.77,317.74 L63.33,317.75 L64.89,317.77 L66.46,317.77 L68.02,317.78 L69.58,317.80 L71.15,317.81 L72.71,317.82 L74.27,317.84 L75.84,317.98 L77.40,318.01 L78.96,318.14 L80.53,318.31 L82.09,318.06 L83.65,317.93 L85.22,318.15 L86.78,317.97 L88.34,317.99 L89.91,318.01 L91.47,318.03 L93.03,318.54 L94.60,318.07 L96.16,318.09 L97.72,318.11 L99.29,318.13 L100.85,318.55 L102.41,318.47 L103.98,318.21 L105.54,319.52 L107.10,318.26 L108.67,318.47 L110.23,318.31 L111.79,319.79 L113.36,318.36 L114.92,318.39 L116.48,318.68 L118.05,318.45 L119.61,318.56 L121.17,318.50 L122.74,319.19 L124.30,319.15" stroke="#eebb40" stroke-width="1.25" fill="none" clip-path="url(#c20)" stroke-linejoin="round"/>
<path d="M77.40,384.10 V304.40" stroke="#9464cc" stroke-width="1.1" stroke-dasharray="9.5 5.5" fill="none"/>
<path d="M30.50,384.10 v-1.2 M30.50,304.40 v1.2 M77.40,384.10 v-1.2 M77.40,304.40 v1.2 M124.30,384.10 v-1.2 M124.30,304.40 v1.2 M30.50,384.10 h1.2 M124.30,384.10 h-1.2 M30.50,317.50 h1.2 M124.30,317.50 h-1.2" stroke="#262626" stroke-width="1" fill="none"/>
<rect x="30.50" y="304.40" width="93.80" height="79.70" stroke="#262626" stroke-width="1" fill="none" opacity="0.68"/>
<text x="30.50" y="402.70" text-anchor="middle" class="t">1600</text>
<text x="77.40" y="402.70" text-anchor="middle" class="t">1700</text>
<text x="124.30" y="402.70" text-anchor="middle" class="t">1800</text>
<text x="25.00" y="322.90" text-anchor="end" class="t">1</text>
<text x="25.00" y="389.50" text-anchor="end" class="t">0.5</text>
<g transform="translate(77.40,425.50) scale(1.030,1)"><text x="0" y="0" text-anchor="middle" class="l"><tspan>c</tspan><tspan class="s" dx="0.4" dy="8.3">base</tspan><tspan dy="-8.3"> </tspan><tspan dx="0.8">(m/s</tspan><tspan dx="0.0">)</tspan></text></g>
<clipPath id="c21"><rect x="165.60" y="304.40" width="94.00" height="79.70"/></clipPath>
<path d="M174.15,304.40 V384.10 M216.87,304.40 V384.10 M259.60,304.40 V384.10 M165.60,384.10 H259.60 M165.60,317.50 H259.60" stroke="#e3e3e3" stroke-width="1" fill="none"/>
<path d="M165.60,317.50 L259.60,317.50" stroke="#1a7fc6" stroke-width="1.25" fill="none" clip-path="url(#c21)" stroke-linejoin="round"/>
<path d="M165.60,317.50 L167.17,317.50 L168.73,317.50 L170.30,317.50 L171.87,318.57 L173.43,317.50 L175.00,317.50 L176.57,317.82 L178.13,317.56 L179.70,317.50 L181.27,317.50 L182.83,317.50 L184.40,317.50 L185.97,317.50 L187.53,317.50 L189.10,317.50 L190.67,317.54 L192.23,317.76 L193.80,317.50 L195.37,317.50 L196.93,317.50 L198.50,317.50 L200.07,317.50 L201.63,317.50 L203.20,317.97 L204.77,317.50 L206.33,317.50 L207.90,317.50 L209.47,318.24 L211.03,317.50 L212.60,317.83 L214.17,317.50 L215.73,317.50 L217.30,317.50 L218.87,317.50 L220.43,318.51 L222.00,318.00 L223.57,317.50 L225.13,318.20 L226.70,317.50 L228.27,317.50 L229.83,317.50 L231.40,317.50 L232.97,317.50 L234.53,318.56 L236.10,317.50 L237.67,317.50 L239.23,317.50 L240.80,317.50 L242.37,317.50 L243.93,317.50 L245.50,317.59 L247.07,317.58 L248.63,317.50 L250.20,317.79 L251.77,317.50 L253.33,317.82 L254.90,317.50 L256.47,317.50 L258.03,317.50 L259.60,317.50" stroke="#dc5d28" stroke-width="1.25" fill="none" clip-path="url(#c21)" stroke-linejoin="round"/>
<path d="M165.60,317.50 L167.17,317.50 L168.73,317.50 L170.30,317.50 L171.87,317.70 L173.43,317.50 L175.00,318.22 L176.57,317.52 L178.13,317.50 L179.70,317.50 L181.27,317.50 L182.83,318.01 L184.40,317.50 L185.97,317.56 L187.53,317.50 L189.10,317.62 L190.67,317.50 L192.23,317.50 L193.80,317.50 L195.37,317.50 L196.93,317.50 L198.50,317.50 L200.07,317.50 L201.63,317.50 L203.20,317.50 L204.77,317.50 L206.33,317.50 L207.90,317.50 L209.47,317.50 L211.03,317.50 L212.60,317.50 L214.17,317.50 L215.73,318.18 L217.30,317.50 L218.87,317.50 L220.43,317.50 L222.00,317.81 L223.57,317.80 L225.13,318.03 L226.70,317.50 L228.27,317.50 L229.83,317.76 L231.40,317.50 L232.97,317.50 L234.53,318.28 L236.10,318.20 L237.67,317.50 L239.23,317.50 L240.80,317.50 L242.37,317.50 L243.93,317.50 L245.50,317.94 L247.07,317.70 L248.63,317.77 L250.20,318.08 L251.77,317.50 L253.33,317.50 L254.90,317.77 L256.47,317.50 L258.03,317.99 L259.60,317.50" stroke="#eebb40" stroke-width="1.25" fill="none" clip-path="url(#c21)" stroke-linejoin="round"/>
<path d="M199.78,384.10 V304.40" stroke="#9464cc" stroke-width="1.1" stroke-dasharray="9.5 5.5" fill="none"/>
<path d="M174.15,384.10 v-1.2 M174.15,304.40 v1.2 M216.87,384.10 v-1.2 M216.87,304.40 v1.2 M259.60,384.10 v-1.2 M259.60,304.40 v1.2 M165.60,384.10 h1.2 M259.60,384.10 h-1.2 M165.60,317.50 h1.2 M259.60,317.50 h-1.2" stroke="#262626" stroke-width="1" fill="none"/>
<rect x="165.60" y="304.40" width="94.00" height="79.70" stroke="#262626" stroke-width="1" fill="none" opacity="0.68"/>
<text x="174.15" y="402.70" text-anchor="middle" class="t">1.5</text>
<text x="216.87" y="402.70" text-anchor="middle" class="t">2</text>
<text x="259.60" y="402.70" text-anchor="middle" class="t">2.5</text>
<text x="160.10" y="322.90" text-anchor="end" class="t">1</text>
<text x="160.10" y="389.50" text-anchor="end" class="t">0.5</text>
<g transform="translate(212.60,430.80) scale(1.030,1)"><text x="0" y="0" text-anchor="middle" class="l"><tspan class="g">&#961;</tspan><tspan class="s" dx="0.4" dy="7.3">base</tspan><tspan dy="-7.3"> </tspan><tspan dx="0.8">(g/cm</tspan><tspan class="s" dx="2.2" dy="-7">3</tspan><tspan dy="7" dx="0.5">)</tspan></text></g>
<clipPath id="c22"><rect x="299.80" y="304.40" width="94.50" height="79.70"/></clipPath>
<path d="M299.80,304.40 V384.10 M337.60,304.40 V384.10 M375.40,304.40 V384.10 M299.80,384.10 H394.30 M299.80,317.50 H394.30" stroke="#e3e3e3" stroke-width="1" fill="none"/>
<path d="M299.80,317.50 L394.30,317.50" stroke="#eebb40" stroke-width="1.25" fill="none" clip-path="url(#c22)" stroke-linejoin="round"/>
<path d="M356.50,384.10 V304.40" stroke="#9464cc" stroke-width="1.1" stroke-dasharray="9.5 5.5" fill="none"/>
<path d="M299.80,384.10 v-1.2 M299.80,304.40 v1.2 M337.60,384.10 v-1.2 M337.60,304.40 v1.2 M375.40,384.10 v-1.2 M375.40,304.40 v1.2 M299.80,384.10 h1.2 M394.30,384.10 h-1.2 M299.80,317.50 h1.2 M394.30,317.50 h-1.2" stroke="#262626" stroke-width="1" fill="none"/>
<rect x="299.80" y="304.40" width="94.50" height="79.70" stroke="#262626" stroke-width="1" fill="none" opacity="0.68"/>
<text x="299.80" y="402.70" text-anchor="middle" class="t">0.1</text>
<text x="337.60" y="402.70" text-anchor="middle" class="t">0.2</text>
<text x="375.40" y="402.70" text-anchor="middle" class="t">0.3</text>
<text x="294.30" y="322.90" text-anchor="end" class="t">1</text>
<text x="294.30" y="389.50" text-anchor="end" class="t">0.5</text>
<g transform="translate(347.05,425.50) scale(1.030,1)"><text x="0" y="0" text-anchor="middle" class="l"><tspan class="g">&#945;</tspan><tspan class="s" dx="2.4" dy="8.3">base</tspan><tspan dy="-8.3"> </tspan><tspan dx="0.8">(dB/<tspan class="g lam" dx="2.5">&#955;</tspan></tspan><tspan dx="2.0">)</tspan></text></g>
<rect x="437.5" y="314.5" width="92.0" height="65.0" fill="#fff" stroke="#262626" stroke-width="1" opacity="0.8"/>
<path d="M440.6,324.10 H478.4" stroke="#62b2e2" stroke-width="1.4" fill="none"/>
<text transform="translate(481.5,328.80) scale(0.95,1)" class="lg">150 Hz</text>
<path d="M440.6,339.35 H478.4" stroke="#e4663c" stroke-width="1.4" fill="none"/>
<text transform="translate(481.5,344.05) scale(0.95,1)" class="lg">250 Hz</text>
<path d="M440.6,354.60 H478.4" stroke="#f0bb4a" stroke-width="1.4" fill="none"/>
<text transform="translate(481.5,359.30) scale(0.95,1)" class="lg">300 Hz</text>
<path d="M440.8,370.00 H478.4" stroke="#9060c0" stroke-width="1.1" stroke-dasharray="9.2 5.8" fill="none"/>
<text transform="translate(481.5,374.70) scale(0.95,1)" class="lg">Baseline</text><path d="M23.95,106.72h2.72v1.53h-2.72z M27.87,106.72h2.63v1.53h-2.63z" fill="#fff"/>
<path d="M18.44,26.82h2.72v1.53h-2.72z M22.36,26.82h2.63v1.53h-2.63z" fill="#fff"/>
<path d="M159.99,106.72h2.72v1.53h-2.72z M163.90,106.72h2.63v1.53h-2.63z" fill="#fff"/>
<path d="M153.54,26.82h2.72v1.53h-2.72z M157.46,26.82h2.63v1.53h-2.63z" fill="#fff"/>
<path d="M354.00,106.72h2.72v1.53h-2.72z M357.92,106.72h2.63v1.53h-2.63z" fill="#fff"/>
<path d="M387.75,106.72h2.72v1.53h-2.72z M391.67,106.72h2.63v1.53h-2.63z" fill="#fff"/>
<path d="M287.74,26.82h2.72v1.53h-2.72z M291.66,26.82h2.63v1.53h-2.63z" fill="#fff"/>
<path d="M472.50,106.72h2.72v1.53h-2.72z M476.42,106.72h2.63v1.53h-2.63z" fill="#fff"/>
<path d="M519.70,106.72h2.72v1.53h-2.72z M523.62,106.72h2.63v1.53h-2.63z" fill="#fff"/>
<path d="M423.24,26.82h2.72v1.53h-2.72z M427.16,26.82h2.63v1.53h-2.63z" fill="#fff"/>
<path d="M18.44,174.82h2.72v1.53h-2.72z M22.36,174.82h2.63v1.53h-2.63z" fill="#fff"/>
<path d="M152.16,253.82h2.72v1.53h-2.72z M156.08,253.82h2.63v1.53h-2.63z" fill="#fff"/>
<path d="M199.16,253.82h2.72v1.53h-2.72z M203.08,253.82h2.63v1.53h-2.63z" fill="#fff"/>
<path d="M246.16,253.82h2.72v1.53h-2.72z M250.08,253.82h2.63v1.53h-2.63z" fill="#fff"/>
<path d="M153.54,174.82h2.72v1.53h-2.72z M157.46,174.82h2.63v1.53h-2.63z" fill="#fff"/>
<path d="M300.12,253.82h2.72v1.53h-2.72z M304.04,253.82h2.63v1.53h-2.63z" fill="#fff"/>
<path d="M287.74,174.82h2.72v1.53h-2.72z M291.66,174.82h2.63v1.53h-2.63z" fill="#fff"/>
<path d="M437.36,253.82h2.72v1.53h-2.72z M441.27,253.82h2.63v1.53h-2.63z" fill="#fff"/>
<path d="M423.24,174.82h2.72v1.53h-2.72z M427.16,174.82h2.63v1.53h-2.63z" fill="#fff"/>
<path d="M17.06,401.62h2.72v1.53h-2.72z M20.98,401.62h2.63v1.53h-2.63z" fill="#fff"/>
<path d="M63.96,401.62h2.72v1.53h-2.72z M67.88,401.62h2.63v1.53h-2.63z" fill="#fff"/>
<path d="M110.86,401.62h2.72v1.53h-2.72z M114.78,401.62h2.63v1.53h-2.63z" fill="#fff"/>
<path d="M18.44,321.82h2.72v1.53h-2.72z M22.36,321.82h2.63v1.53h-2.63z" fill="#fff"/>
<path d="M165.88,401.62h2.72v1.53h-2.72z M169.80,401.62h2.63v1.53h-2.63z" fill="#fff"/>
<path d="M153.54,321.82h2.72v1.53h-2.72z M157.46,321.82h2.63v1.53h-2.63z" fill="#fff"/>
<path d="M301.86,401.62h2.72v1.53h-2.72z M305.77,401.62h2.63v1.53h-2.63z" fill="#fff"/>
<path d="M287.74,321.82h2.72v1.53h-2.72z M291.66,321.82h2.63v1.53h-2.63z" fill="#fff"/>
<path d="M0.30,-1.03h2.62v1.48h-2.62z M4.06,-1.03h2.53v1.48h-2.53z" fill="#fff" transform="translate(481.5,328.80) scale(0.95,1)"/></svg>
</body></html>
